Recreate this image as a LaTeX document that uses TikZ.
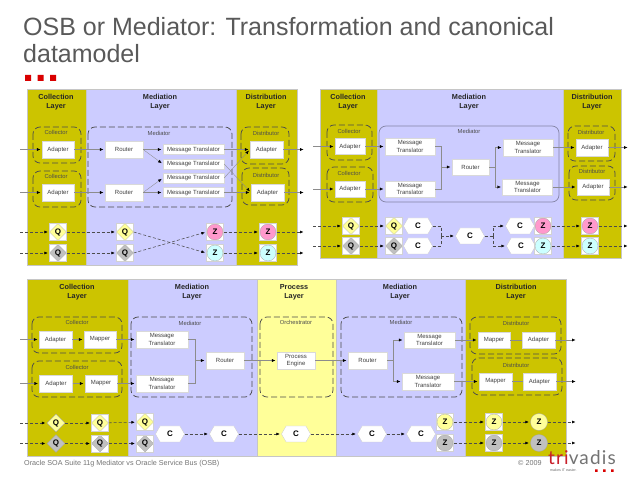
\documentclass[tikz,border=0pt]{standalone}
\usepackage{fontspec}
\usepackage{xcolor}
\setmainfont{Liberation Sans}
\newfontfamily\logofont[LetterSpace=6]{Lato}
\usetikzlibrary{shapes,arrows.meta,positioning,calc}
\definecolor{layerolive}{HTML}{CCC400}
\definecolor{layerlav}{HTML}{CCCCFF}
\definecolor{layeryel}{HTML}{FFFF99}
\definecolor{qgray}{HTML}{C0C0C0}
\definecolor{zpink}{HTML}{FF99CC}
\definecolor{zcyan}{HTML}{CCFFFF}
\definecolor{titlegray}{HTML}{595959}
\definecolor{trired}{HTML}{C8202A}
\tikzset{
  layer/.style={draw=gray!45,line width=0.4pt},
  layerhead/.style={font=\fontsize{7.3}{9}\selectfont\bfseries,align=center,text=black!85},
  group/.style={draw=black!70,dash pattern=on 6pt off 3pt,line width=0.75pt,rounded corners=7pt},
  grouplbl/.style={font=\fontsize{5.8}{7}\selectfont,text=black!70},
  box/.style={fill=white,draw=gray!30,line width=0.3pt,inner sep=0pt,align=center,font=\fontsize{6}{7.4}\selectfont,text=black!75},
  conn/.style={draw=black!45,line width=0.35pt},
  arr/.style={conn,-{Latex[length=3.5pt,width=3pt,black]},shorten >=1.5pt},
  dconn/.style={draw=black!70,line width=0.55pt,dash pattern=on 3pt off 2pt},
  darr/.style={dconn,-{Latex[length=3.5pt,width=3pt,black]},shorten >=1.5pt},
  icon/.style={rectangle,fill=white,draw=gray!35,line width=0.3pt,minimum size=17pt,inner sep=0pt,font=\fontsize{8}{9}\selectfont\bfseries},
  qicon/.style={icon,path picture={\fill[#1,draw=gray!70,line width=0.3pt] (path picture bounding box.north) -- (path picture bounding box.east) -- (path picture bounding box.south) -- (path picture bounding box.west) -- cycle;}},
  zicon/.style={icon,path picture={\fill[#1,draw=gray!70,line width=0.3pt] (path picture bounding box.center) circle (8pt);}},
  qdia/.style={diamond,fill=#1,draw=gray!70,line width=0.3pt,minimum size=18pt,inner sep=0pt,font=\fontsize{8}{9}\selectfont\bfseries},
  zcirc/.style={circle,fill=#1,draw=gray!70,line width=0.3pt,minimum size=17pt,inner sep=0pt,font=\fontsize{8}{9}\selectfont\bfseries},
  hexc/.style={signal,signal to=east and west,signal pointer angle=120,fill=white,draw=gray!40,line width=0.3pt,minimum width=29pt,minimum height=16pt,inner sep=0pt,font=\fontsize{8}{9}\selectfont\bfseries}
}
\begin{document}
\begin{tikzpicture}[x=1pt,y=-1pt]
    \useasboundingbox (0,0) rectangle (638,478);
    % Title
    \node[anchor=north west,inner sep=0pt,align=left,text=titlegray,font=\fontsize{25}{27}\selectfont] (title) at (23,17.5) {OSB or Mediator: Transformation and canonical\\datamodel};
    \fill[red!85!black] (25,75) rectangle (31,81) (37.5,75) rectangle (43.5,81) (50,75) rectangle (56,81);

    % Panel 1: layers
    \fill[layerolive,layer] (27,89) rectangle (86,265);
    \fill[layerlav,layer] (86,89) rectangle (236,265);
    \fill[layerolive,layer] (236,89) rectangle (297,265);
    \node[layerhead] (aColl) at (56,102.5) {Collection\\Layer};
    \node[layerhead] (aMed) at (160,102.5) {Mediation\\Layer};
    \node[layerhead] (aDist) at (266,102.5) {Distribution\\Layer};
    % Panel 1: groups
    \draw[group] (33,127) rectangle (81,163);
    \draw[group] (33,171) rectangle (81,207);
    \draw[group] (88,127) rectangle (232,207);
    \draw[group] (241,127) rectangle (289,164);
    \draw[group] (242,168) rectangle (289,205);
    \node[grouplbl] (aCollA) at (56,132.5) {Collector};
    \node[grouplbl] (aCollB) at (56,176.5) {Collector};
    \node[grouplbl] (aMedr) at (159,133) {Mediator};
    \node[grouplbl] (aDistA) at (266,133) {Distributor};
    \node[grouplbl] (aDistB) at (266,175) {Distributor};
    % Panel 1: boxes
    \node[box,minimum width=32pt,minimum height=17pt] (aAd1) at (58,149.5) {Adapter};
    \node[box,minimum width=32pt,minimum height=17pt] (aAd2) at (58,192.5) {Adapter};
    \node[box,minimum width=38pt,minimum height=17pt] (aRt1) at (124,149.5) {Router};
    \node[box,minimum width=38pt,minimum height=17pt] (aRt2) at (124,192.5) {Router};
    \node[box,minimum width=61pt,minimum height=10pt] (aMt1) at (193.5,149.5) {Message Translator};
    \node[box,minimum width=61pt,minimum height=10pt] (aMt2) at (193.5,164) {Message Translator};
    \node[box,minimum width=61pt,minimum height=10pt] (aMt3) at (193.5,178) {Message Translator};
    \node[box,minimum width=61pt,minimum height=10pt] (aMt4) at (193.5,192.5) {Message Translator};
    \node[box,minimum width=33pt,minimum height=17pt] (aAd3) at (266.5,149.5) {Adapter};
    \node[box,minimum width=33pt,minimum height=17pt] (aAd4) at (267.5,192.5) {Adapter};
    % Panel 1: solid flow
    \coordinate (aIn1) at (20,149.5);
    \coordinate (aIn2) at (20,192.5);
    \coordinate (aOut1) at (305,149.5);
    \coordinate (aOut2) at (305,192.5);
    \draw[arr] (aIn1) -- (aAd1);
    \draw[arr] (aIn2) -- (aAd2);
    \draw[arr] (aAd1) -- (aRt1);
    \draw[arr] (aAd2) -- (aRt2);
    \draw[arr] (aRt1) -- (aMt1);
    \draw[arr] (aRt1.east) -- (aMt2.west);
    \draw[arr] (aRt2.east) -- (aMt3.west);
    \draw[arr] (aRt2) -- (aMt4);
    \draw[arr] (aMt1) -- (aAd3);
    \draw[arr] (aMt4) -- (aAd4);
    \draw[arr] (aMt2.east) -- (aAd4.west);
    \draw[arr] (aMt3.east) -- (aAd3.west);
    \draw[arr] (aAd3) -- (aOut1);
    \draw[arr] (aAd4) -- (aOut2);
    % Panel 1: message row
    \node[qicon=layeryel] (aQ1) at (58,232) {Q};
    \node[qicon=qgray] (aQ2) at (58,253) {Q};
    \node[qicon=layeryel] (aQ3) at (125,232) {Q};
    \node[qicon=qgray] (aQ4) at (125,253) {Q};
    \node[zicon=zpink] (aZ1) at (215,232) {Z};
    \node[zicon=zcyan] (aZ2) at (215,253) {Z};
    \node[zicon=zpink] (aZ3) at (268,232) {Z};
    \node[zicon=zcyan] (aZ4) at (268,253) {Z};
    \coordinate (aIn3) at (20,232);
    \coordinate (aIn4) at (20,253);
    \coordinate (aOut3) at (305,232);
    \coordinate (aOut4) at (305,253);
    \draw[darr] (aIn3) -- (aQ1);
    \draw[darr] (aIn4) -- (aQ2);
    \draw[darr] (aQ1) -- (aQ3);
    \draw[darr] (aQ2) -- (aQ4);
    \draw[darr] (aQ3.east) -- (aZ2.west);
    \draw[darr] (aQ4.east) -- (aZ1.west);
    \draw[darr] (aZ1) -- (aZ3);
    \draw[darr] (aZ2) -- (aZ4);
    \draw[darr] (aZ3) -- (aOut3);
    \draw[darr] (aZ4) -- (aOut4);

    % Panel 2: layers
    \fill[layerolive,layer] (320,89) rectangle (377,258);
    \fill[layerlav,layer] (377,89) rectangle (563,258);
    \fill[layerolive,layer] (563,89) rectangle (621,258);
    \node[layerhead] (bColl) at (348,102) {Collection\\Layer};
    \node[layerhead] (bMed) at (469,102) {Mediation\\Layer};
    \node[layerhead] (bDist) at (592,102) {Distribution\\Layer};
    % Panel 2: groups
    \draw[group] (327,125) rectangle (372,160);
    \draw[group] (327,167) rectangle (373,202);
    \draw[draw=layerlav!65!black,line width=0.7pt,rounded corners=7pt] (379,126) rectangle (559,202);
    \draw[group] (568,126) rectangle (615,161);
    \draw[group] (569,166) rectangle (615,200);
    \node[grouplbl] (bCollA) at (349,131) {Collector};
    \node[grouplbl] (bCollB) at (349,173) {Collector};
    \node[grouplbl] (bMedr) at (469,131.5) {Mediator};
    \node[grouplbl] (bDistA) at (591,132) {Distributor};
    \node[grouplbl] (bDistB) at (592,171) {Distributor};
    % Panel 2: boxes
    \node[box,minimum width=30pt,minimum height=16pt] (bAd1) at (350,146.5) {Adapter};
    \node[box,minimum width=30pt,minimum height=16pt] (bAd2) at (350,189) {Adapter};
    \node[box,minimum width=50pt,minimum height=17pt] (bMt1) at (410,146.5) {Message\\Translator};
    \node[box,minimum width=50pt,minimum height=16pt] (bMt2) at (410,189) {Message\\Translator};
    \node[box,minimum width=37pt,minimum height=16pt] (bRt) at (470.5,167) {Router};
    \node[box,minimum width=50pt,minimum height=17pt] (bMt3) at (528,147.5) {Message\\Translator};
    \node[box,minimum width=50pt,minimum height=16pt] (bMt4) at (527.5,187) {Message\\Translator};
    \node[box,minimum width=32pt,minimum height=17pt] (bAd3) at (592,147.5) {Adapter};
    \node[box,minimum width=32pt,minimum height=16pt] (bAd4) at (593,187) {Adapter};
    % Panel 2: solid flow
    \coordinate (bIn1) at (313,146.5);
    \coordinate (bIn2) at (313,189);
    \coordinate (bOut1) at (629,147.5);
    \coordinate (bOut2) at (629,187);
    \coordinate (bJn1) at (441,167);
    \coordinate (bJn2) at (495,167);
    \draw[arr] (bIn1) -- (bAd1);
    \draw[arr] (bIn2) -- (bAd2);
    \draw[arr] (bAd1) -- (bMt1);
    \draw[arr] (bAd2) -- (bMt2);
    \draw[conn] (bMt1.east) -| (bJn1);
    \draw[conn] (bMt2.east) -| (bJn1);
    \draw[arr] (bJn1) -- (bRt);
    \draw[conn] (bRt) -- (bJn2);
    \draw[arr] (bJn2) |- (bMt3.west);
    \draw[arr] (bJn2) |- (bMt4.west);
    \draw[arr] (bMt3) -- (bAd3);
    \draw[arr] (bMt4) -- (bAd4);
    \draw[arr] (bAd3) -- (bOut1);
    \draw[arr] (bAd4) -- (bOut2);
    % Panel 2: message row
    \node[qicon=layeryel] (bQ1) at (351,226) {Q};
    \node[qicon=qgray] (bQ2) at (351,246) {Q};
    \node[qicon=layeryel] (bQ3) at (394,226) {Q};
    \node[qicon=qgray] (bQ4) at (394,246) {Q};
    \node[hexc] (bC1) at (418,226) {C};
    \node[hexc] (bC2) at (418,246) {C};
    \node[hexc] (bC3) at (470,236) {C};
    \node[hexc] (bC4) at (520,226) {C};
    \node[hexc] (bC5) at (521,246) {C};
    \node[zicon=zpink] (bZ1) at (543,226) {Z};
    \node[zicon=zcyan] (bZ2) at (543,246) {Z};
    \node[zicon=zpink] (bZ3) at (590,226) {Z};
    \node[zicon=zcyan] (bZ4) at (590,246) {Z};
    \coordinate (bIn3) at (313,226);
    \coordinate (bIn4) at (313,246);
    \coordinate (bOut3) at (629,226);
    \coordinate (bOut4) at (629,246);
    \coordinate (bJn3) at (441,236);
    \coordinate (bJn4) at (493,236);
    \draw[darr] (bIn3) -- (bQ1);
    \draw[darr] (bIn4) -- (bQ2);
    \draw[darr] (bQ1) -- (bQ3);
    \draw[darr] (bQ2) -- (bQ4);
    \draw[dconn] (bC1.east) -| (bJn3);
    \draw[dconn] (bC2.east) -| (bJn3);
    \draw[darr] (bJn3) -- (bC3.west);
    \draw[dconn] (bC3.east) -- (bJn4);
    \draw[darr] (bJn4) |- (bC4.west);
    \draw[darr] (bJn4) |- (bC5.west);
    \draw[darr] (bZ1) -- (bZ3);
    \draw[darr] (bZ2) -- (bZ4);
    \draw[darr] (bZ3) -- (bOut3);
    \draw[darr] (bZ4) -- (bOut4);

    % Panel 3: layers
    \fill[layerolive,layer] (27,279) rectangle (128,456);
    \fill[layerlav,layer] (128,279) rectangle (257,456);
    \fill[layeryel,layer] (257,279) rectangle (336,456);
    \fill[layerlav,layer] (336,279) rectangle (465,456);
    \fill[layerolive,layer] (465,279) rectangle (566,456);
    \node[layerhead] (cColl) at (77,292.5) {Collection\\Layer};
    \node[layerhead] (cMedA) at (192,292.5) {Mediation\\Layer};
    \node[layerhead] (cProc) at (294,292.5) {Process\\Layer};
    \node[layerhead] (cMedB) at (400,292.5) {Mediation\\Layer};
    \node[layerhead] (cDist) at (516,292.5) {Distribution\\Layer};
    % Panel 3: groups
    \draw[group] (32,317) rectangle (122,353);
    \draw[group] (32,361) rectangle (122,397);
    \draw[group] (131,317) rectangle (252,397);
    \draw[group] (260,317) rectangle (333,397);
    \draw[group] (341,317) rectangle (462,397);
    \draw[group] (470,317) rectangle (561,354);
    \draw[group] (472,358) rectangle (562,395);
    \node[grouplbl] (cCollA) at (77,322.5) {Collector};
    \node[grouplbl] (cCollB) at (77,367) {Collector};
    \node[grouplbl] (cMedrA) at (190,323) {Mediator};
    \node[grouplbl] (cOrch) at (296,322.5) {Orchestrator};
    \node[grouplbl] (cMedrB) at (401,322.5) {Mediator};
    \node[grouplbl] (cDistA) at (516,323) {Distributor};
    \node[grouplbl] (cDistB) at (516,365) {Distributor};
    % Panel 3: boxes
    \node[box,minimum width=33pt,minimum height=17pt] (cAd1) at (55.5,339.5) {Adapter};
    \node[box,minimum width=33pt,minimum height=17pt] (cAd2) at (56,383.5) {Adapter};
    \node[box,minimum width=32pt,minimum height=17pt] (cMp1) at (100,339.5) {Mapper};
    \node[box,minimum width=32pt,minimum height=17pt] (cMp2) at (101,383.5) {Mapper};
    \node[box,minimum width=52pt,minimum height=17pt] (cMt1) at (162,339.5) {Message\\Translator};
    \node[box,minimum width=52pt,minimum height=17pt] (cMt2) at (162,383.5) {Message\\Translator};
    \node[box,minimum width=38pt,minimum height=17pt] (cRt1) at (225,360.5) {Router};
    \node[box,minimum width=38pt,minimum height=17pt] (cEng) at (296,360.5) {Process\\Engine};
    \node[box,minimum width=39pt,minimum height=17pt] (cRt2) at (367.5,360.5) {Router};
    \node[box,minimum width=51pt,minimum height=16pt] (cMt3) at (429.5,340) {Message\\Translator};
    \node[box,minimum width=52pt,minimum height=17pt] (cMt4) at (428,381.5) {Message\\Translator};
    \node[box,minimum width=32pt,minimum height=16pt] (cMp3) at (494,340) {Mapper};
    \node[box,minimum width=33pt,minimum height=17pt] (cMp4) at (495.5,381.5) {Mapper};
    \node[box,minimum width=33pt,minimum height=16pt] (cAd3) at (538.5,340) {Adapter};
    \node[box,minimum width=33pt,minimum height=17pt] (cAd4) at (539.5,381.5) {Adapter};
    % Panel 3: solid flow
    \coordinate (cIn1) at (20,339.5);
    \coordinate (cIn2) at (20,383.5);
    \coordinate (cOut1) at (577,340);
    \coordinate (cOut2) at (577,381.5);
    \coordinate (cJn1) at (195,360.5);
    \coordinate (cJn2) at (393,360.5);
    \draw[arr] (cIn1) -- (cAd1);
    \draw[arr] (cIn2) -- (cAd2);
    \draw[arr] (cAd1) -- (cMp1);
    \draw[arr] (cAd2) -- (cMp2);
    \draw[arr] (cMp1) -- (cMt1);
    \draw[arr] (cMp2) -- (cMt2);
    \draw[conn] (cMt1.east) -| (cJn1);
    \draw[conn] (cMt2.east) -| (cJn1);
    \draw[arr] (cJn1) -- (cRt1);
    \draw[arr] (cRt1) -- (cEng);
    \draw[arr] (cEng) -- (cRt2);
    \draw[conn] (cRt2) -- (cJn2);
    \draw[arr] (cJn2) |- (cMt3.west);
    \draw[arr] (cJn2) |- (cMt4.west);
    \draw[arr] (cMt3) -- (cMp3);
    \draw[arr] (cMt4) -- (cMp4);
    \draw[conn] (cMp3) -- (cAd3);
    \draw[conn] (cMp4) -- (cAd4);
    \draw[arr] (cAd3) -- (cOut1);
    \draw[arr] (cAd4) -- (cOut2);
    % Panel 3: message row
    \node[qdia=layeryel] (cQ1) at (56,423) {Q};
    \node[qdia=qgray] (cQ2) at (56,443.5) {Q};
    \node[qicon=layeryel] (cQ3) at (100,423) {Q};
    \node[qicon=qgray] (cQ4) at (100,443.5) {Q};
    \node[qicon=layeryel] (cQ5) at (145,422) {Q};
    \node[qicon=qgray] (cQ6) at (145,443.5) {Q};
    \node[hexc] (cC1) at (170,434) {C};
    \node[hexc] (cC2) at (224,434) {C};
    \node[hexc] (cC3) at (296,434) {C};
    \node[hexc] (cC4) at (372,434) {C};
    \node[hexc] (cC5) at (421,434) {C};
    \node[zicon=layeryel] (cZ1) at (445,422) {Z};
    \node[zicon=qgray] (cZ2) at (445,443) {Z};
    \node[zicon=layeryel] (cZ3) at (494,422) {Z};
    \node[zicon=qgray] (cZ4) at (494,443) {Z};
    \node[zcirc=layeryel] (cZ5) at (539,422) {Z};
    \node[zcirc=qgray] (cZ6) at (539,443) {Z};
    \coordinate (cIn3) at (20,423);
    \coordinate (cIn4) at (20,443.5);
    \coordinate (cOut3) at (577,422);
    \coordinate (cOut4) at (577,443);
    \draw[darr] (cIn3) -- (cQ1);
    \draw[darr] (cIn4) -- (cQ2);
    \draw[darr] (cQ1) -- (cQ3);
    \draw[darr] (cQ2) -- (cQ4);
    \draw[darr] (cQ3) -- (cQ5);
    \draw[darr] (cQ4) -- (cQ6);
    \draw[darr] (cC1.east) -- (cC2.west);
    \draw[darr] (cC2.east) -- (cC3.west);
    \draw[darr] (cC3.east) -- (cC4.west);
    \draw[darr] (cC4.east) -- (cC5.west);
    \draw[darr] (cZ1) -- (cZ3);
    \draw[darr] (cZ2) -- (cZ4);
    \draw[darr] (cZ3) -- (cZ5);
    \draw[darr] (cZ4) -- (cZ6);
    \draw[darr] (cZ5) -- (cOut3);
    \draw[darr] (cZ6) -- (cOut4);

    % Footer
    \node[anchor=west,inner sep=0pt,text=black!55,font=\fontsize{7.2}{9}\selectfont] (footer) at (24,463.5) {Oracle SOA Suite 11g Mediator vs Oracle Service Bus (OSB)};
    \node[anchor=west,inner sep=0pt,text=black!55,font=\fontsize{7.2}{9}\selectfont] (copyr) at (518,463.5) {© 2009};
    \node[anchor=base west,inner sep=0pt,font=\logofont\fontsize{19}{20}\selectfont] (logo) at (548,465) {\textcolor{trired}{tri}\textcolor{black!55}{vadis}};
    \node[anchor=west,inner sep=0pt,text=black!60,font=\fontsize{3.6}{4}\selectfont] (claim) at (550,470.5) {makes IT easier.};
    \fill[red!85!black] (595,469.5) rectangle (597.5,472) (603,469.5) rectangle (605.5,472) (611,469.5) rectangle (613.5,472);
\end{tikzpicture}
\end{document}
